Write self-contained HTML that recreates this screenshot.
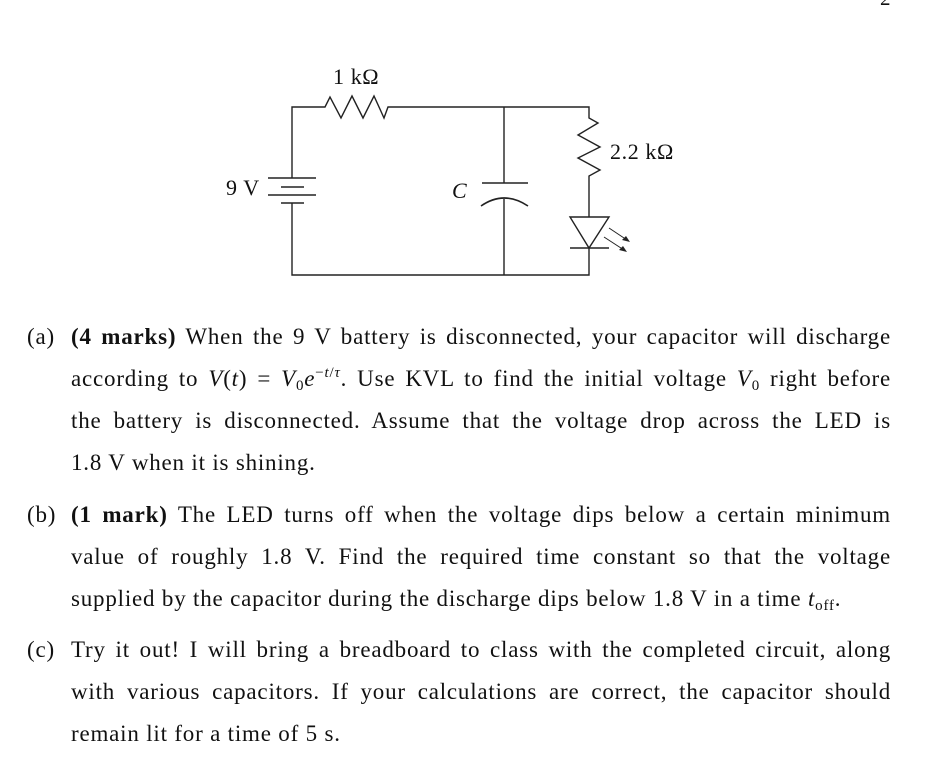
<!DOCTYPE html>
<html><head><meta charset="utf-8"><style>
body{margin:0;width:931px;height:763px;background:#fff;position:relative;overflow:hidden;font-family:"Liberation Serif",serif;color:#111}
.l{position:absolute;left:71px;width:820px;font-size:23px;letter-spacing:0.8px;line-height:24px;white-space:nowrap;text-align:justify;text-align-last:justify}
.n{text-align-last:left}
.lab{position:absolute;left:27px;font-size:23px;letter-spacing:0.8px;line-height:24px}
i{font-style:italic}
sub{font-size:15px;vertical-align:-4px;line-height:0}
sup{font-size:15px;vertical-align:9px;line-height:0}
</style></head><body>
<div style="position:absolute;left:880px;top:-14px;font-size:21px">2</div>
<svg width="931" height="300" style="position:absolute;left:0;top:0" fill="none" stroke="#222" stroke-width="1.4">
<polyline points="292,178 292,107 325,107 330,97 341,118 352,96 363,118 374,96 384,118 388,107 504,107 589,107 589,118 598,123 578,135 600,147 578,158 600,170 589,176 589,217"/>
<line x1="504" y1="107" x2="504" y2="183"/>
<line x1="482" y1="183" x2="528" y2="183" stroke-width="1.6"/>
<path d="M481,206 Q504,190 528,206" stroke-width="1.6"/>
<line x1="504" y1="199" x2="504" y2="275"/>
<line x1="268" y1="178" x2="316" y2="178"/><line x1="281" y1="187" x2="304" y2="187"/>
<line x1="268" y1="195" x2="316" y2="195"/><line x1="281" y1="203" x2="304" y2="203"/>
<polyline points="292,203 292,275 589,275 589,248"/>
<polygon points="570,217 609,217 589,248"/>
<line x1="570" y1="248" x2="609" y2="248"/>
<line x1="609" y1="228" x2="627" y2="240" stroke-width="1"/><line x1="604" y1="237" x2="624" y2="250" stroke-width="1"/>
<polygon points="630,242 622,240 626,236" fill="#222" stroke="none"/><polygon points="627,252 619,250 623,246" fill="#222" stroke="none"/>
<g font-family="Liberation Serif" font-size="22" fill="#111" stroke="none" letter-spacing="0.6">
<text x="333" y="84">1 kΩ</text>
<text x="610" y="159">2.2 kΩ</text>
<text x="226" y="195">9 V</text>
<text x="452" y="198" font-style="italic">C</text>
</g>
</svg>
<div class="lab" style="top:325px">(a)</div>
<div class="l" style="top:325px"><b>(4 marks)</b> When the 9 V battery is disconnected, your capacitor will discharge</div>
<div class="l" style="top:367px">according to <i>V</i>(<i>t</i>) = <i>V</i><sub>0</sub><i>e</i><sup>−<i>t</i>/<i>τ</i></sup>. Use KVL to find the initial voltage <i>V</i><sub>0</sub> right before</div>
<div class="l" style="top:409px">the battery is disconnected. Assume that the voltage drop across the LED is</div>
<div class="l n" style="top:451px">1.8 V when it is shining.</div>
<div class="lab" style="top:503px">(b)</div>
<div class="l" style="top:503px"><b>(1 mark)</b> The LED turns off when the voltage dips below a certain minimum</div>
<div class="l" style="top:545px">value of roughly 1.8 V. Find the required time constant so that the voltage</div>
<div class="l n" style="top:587px">supplied by the capacitor during the discharge dips below 1.8 V in a time <i>t</i><sub>off</sub>.</div>
<div class="lab" style="top:638px">(c)</div>
<div class="l" style="top:638px">Try it out! I will bring a breadboard to class with the completed circuit, along</div>
<div class="l" style="top:680px">with various capacitors. If your calculations are correct, the capacitor should</div>
<div class="l n" style="top:722px">remain lit for a time of 5 s.</div>
</body></html>
